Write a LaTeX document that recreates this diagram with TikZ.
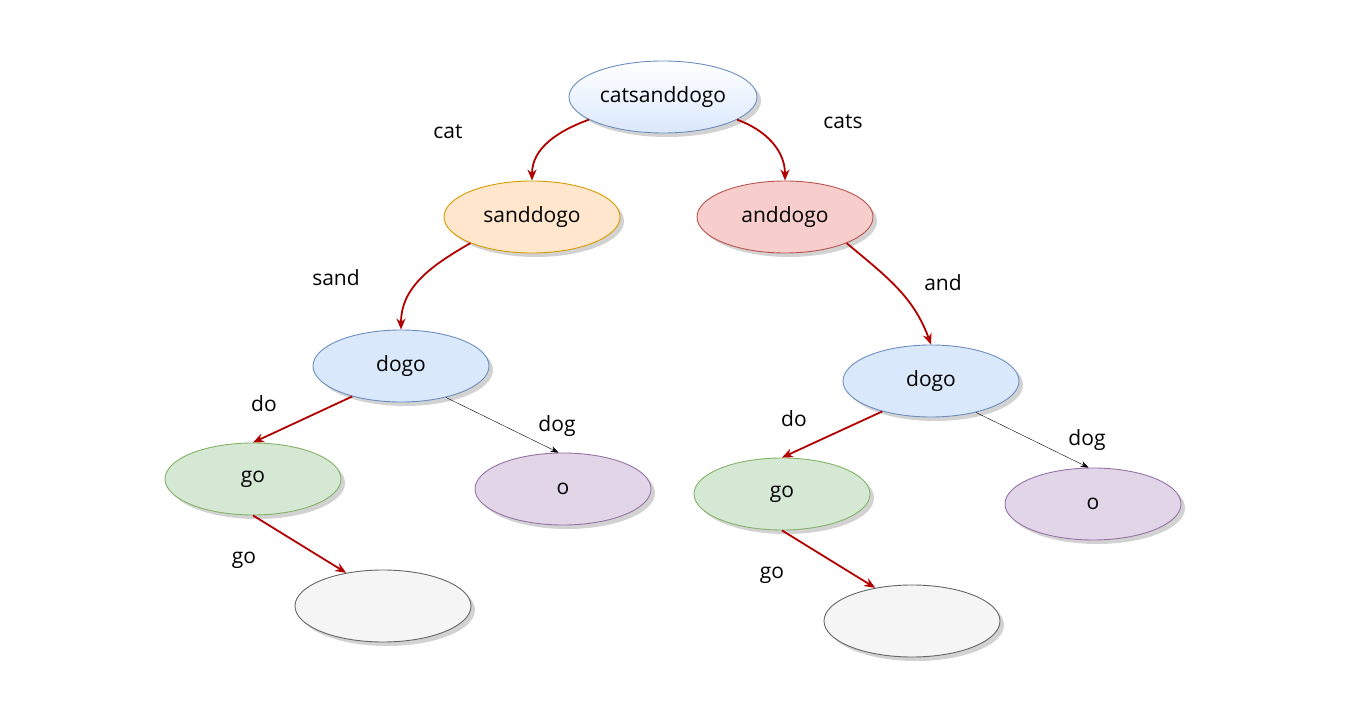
\documentclass[tikz,border=0pt]{standalone}
\usepackage{fontspec}
\setmainfont{Open Sans}
\usetikzlibrary{arrows.meta,shapes,shadows}
\definecolor{edgered}{HTML}{B20000}
\definecolor{bluefill}{HTML}{DAE8FC}\definecolor{blueline}{HTML}{6C8EBF}
\definecolor{orangefill}{HTML}{FFE6CC}\definecolor{orangeline}{HTML}{D79B00}
\definecolor{redfill}{HTML}{F8CECC}\definecolor{redline}{HTML}{B85450}
\definecolor{greenfill}{HTML}{D5E8D4}\definecolor{greenline}{HTML}{82B366}
\definecolor{violetfill}{HTML}{E1D5E7}\definecolor{violetline}{HTML}{9673A6}
\definecolor{greyfill}{HTML}{F5F5F5}\definecolor{greyline}{HTML}{666666}
\begin{document}
\begin{tikzpicture}[x=1pt, y=-1pt, thick]

		\tikzstyle{state}=[ellipse, line width=0.9pt, minimum width=176pt, minimum height=72pt, font=\fontsize{21}{24}\selectfont, drop shadow={shadow xshift=4pt, shadow yshift=-4pt, fill=black!35}]
		\tikzstyle{blue}=[state, fill=bluefill, draw=blueline]
		\tikzstyle{orange}=[state, fill=orangefill, draw=orangeline]
		\tikzstyle{red}=[state, fill=redfill, draw=redline]
		\tikzstyle{green}=[state, fill=greenfill, draw=greenline]
		\tikzstyle{violet}=[state, fill=violetfill, draw=violetline]
		\tikzstyle{grey}=[state, fill=greyfill, draw=greyline]
		\tikzstyle{word}=[-{Stealth[length=11pt,width=9pt]}, edgered, line width=1.8pt]
		\tikzstyle{rest}=[-{Stealth[length=8pt,width=6pt]}, black, thin]
		\tikzstyle{lab}=[font=\fontsize{21}{24}\selectfont]

		\useasboundingbox (0,0) rectangle (1358,727);

		\node[state, top color=white, bottom color=bluefill, draw=blueline] (root) at (663,97) {catsanddogo};
		\node[orange] (sand) at (532,217) {sanddogo};
		\node[red] (and) at (785,217) {anddogo};
		\node[blue] (dl) at (401,366) {dogo};
		\node[blue] (dr) at (931,381) {dogo};
		\node[green] (gl) at (253,479) {go};
		\node[violet] (ol) at (563,489) {o};
		\node[green] (gr) at (782,494) {go};
		\node[violet] (or) at (1093,504) {o};
		\node[grey] (el) at (383,606) {};
		\node[grey] (er) at (912,621) {};

		% red: words taken
		\draw[word] (root.197) to[out=200, in=90] (sand.north);
		\draw[word] (root.343) to[out=-20, in=90] (and.north);
		\draw[word] (sand.203) to[out=210, in=90] (dl.north);
		\draw[word] (and.337) to[out=-40, in=110] (dr.north);
		\draw[word] (dl.212) -- (gl.north);
		\draw[word] (dr.212) -- (gr.north);
		\draw[word] (gl.south) -- (el.138);
		\draw[word] (gr.south) -- (er.138);
		% black: other prefixes
		\draw[rest] (dl.325) -- (ol.97);
		\draw[rest] (dr.325) -- (or.97);

		\node[lab] (lcat) at (448,132) {cat};
		\node[lab] (lcats) at (843,122) {cats};
		\node[lab] (lsand) at (336,278) {sand};
		\node[lab] (land) at (943,283) {and};
		\node[lab] (ldo1) at (264,404) {do};
		\node[lab] (ldog1) at (557,426) {dog};
		\node[lab] (ldo2) at (794,419) {do};
		\node[lab] (ldog2) at (1087,440) {dog};
		\node[lab] (lgo1) at (244,560) {go};
		\node[lab] (lgo2) at (772,575) {go};
\end{tikzpicture}
\end{document}
